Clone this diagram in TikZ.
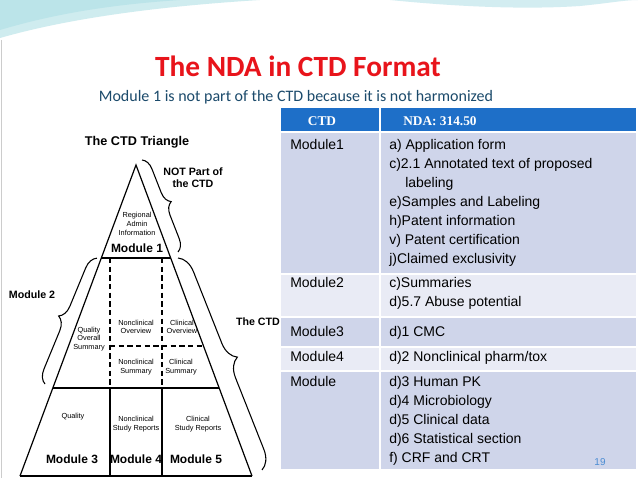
\documentclass[tikz,border=0pt]{standalone}
\usepackage{fontspec}
\setmainfont{Liberation Sans}
\newfontfamily\calib{Carlito}
\newfontfamily\tserif{Liberation Serif}
\usetikzlibrary{decorations.pathreplacing}
\definecolor{hdr}{HTML}{1E6FC8}
\definecolor{rowA}{HTML}{CFD5EA}
\definecolor{rowB}{HTML}{E9EBF5}
\definecolor{ttl}{HTML}{E8141B}
\definecolor{sub}{HTML}{1B4A6B}
\definecolor{wave}{HTML}{9ED8E0}
\tikzset{
  tline/.style={line width=1.4pt},
  thin/.style={line width=0.9pt},
  dline/.style={line width=0.9pt,dashed,dash pattern=on 4pt off 2.5pt},
  small/.style={font=\fontsize{5.5}{6.5}\selectfont,align=center,inner sep=0},
  modl/.style={font=\bfseries\fontsize{9}{10}\selectfont,inner sep=0},
  lab/.style={font=\bfseries\fontsize{8}{9}\selectfont,align=center,inner sep=0},
  cell/.style={font=\fontsize{10.5}{14.2}\selectfont,anchor=north west,align=left,inner sep=0},
  brc/.style={decorate,decoration={brace,amplitude=8pt},line width=0.8pt},
}
\begin{document}
\begin{tikzpicture}[x=0.75pt,y=-0.75pt]
\useasboundingbox (0,0) rectangle (638,478);
\fill[white] (0,0) rectangle (638,478);
% top wave decoration
\fill[wave!50] (0,38) .. controls (80,15) and (180,5) .. (260,0) -- (0,0) -- cycle;
\fill[wave!70] (0,30) .. controls (60,12) and (120,4) .. (180,0) -- (0,0) -- cycle;
\fill[wave!45] (390,0) .. controls (450,6) and (520,10) .. (580,6) .. controls (610,3) and (625,0) .. (638,0) -- cycle;
\draw[gray!40] (1,40) -- (1,478);
% titles
\node[font=\calib\bfseries\fontsize{22}{24}\selectfont,text=ttl] (title) at (298,66) {The NDA in CTD Format};
\node[font=\calib\fontsize{12}{14}\selectfont,text=sub] (subtitle) at (296,97) {Module 1 is not part of the CTD because it is not harmonized};
% table
\fill[hdr] (281,108) rectangle (636,132);
\fill[rowA] (281,132) rectangle (636,274);
\fill[rowB] (281,274) rectangle (636,317);
\fill[rowA] (281,317) rectangle (636,347);
\fill[rowB] (281,347) rectangle (636,371);
\fill[rowA] (281,371) rectangle (636,469);
\draw[white,line width=1pt] (281,132) -- (636,132) (281,274) -- (636,274) (281,317) -- (636,317) (281,347) -- (636,347) (281,371) -- (636,371) (380,108) -- (380,469);
\node[font=\tserif\bfseries\fontsize{10}{11}\selectfont,text=white] (hctd) at (322,121) {CTD};
\node[font=\tserif\bfseries\fontsize{10}{11}\selectfont,text=white] (hnda) at (440,121) {NDA: 314.50};
\node[cell] (m1) at (290,139) {Module1};
\node[cell] (n1) at (389,139) {a) Application form\\c)2.1 Annotated text of proposed\\\hspace*{12pt}labeling\\e)Samples and Labeling\\h)Patent information\\v) Patent certification\\j)Claimed exclusivity};
\node[cell] (m2) at (290,277) {Module2};
\node[cell] (n2) at (389,277) {c)Summaries\\d)5.7 Abuse potential};
\node[cell] (m3) at (290,326) {Module3};
\node[cell] (n3) at (389,326) {d)1 CMC};
\node[cell] (m4) at (290,351) {Module4};
\node[cell] (n4) at (389,351) {d)2 Nonclinical pharm/tox};
\node[cell] (m5) at (290,376) {Module};
\node[cell] (n5) at (389,376) {d)3 Human PK\\d)4 Microbiology\\d)5 Clinical data\\d)6 Statistical section\\f) CRF and CRT};
\node[font=\fontsize{7.5}{8}\selectfont,text=hdr!80] (pg) at (600,462) {19};
% triangle
\coordinate (apex) at (136,165);
\coordinate (bl) at (20,476);
\coordinate (br) at (252,476);
\draw[thin] (bl) -- (apex) -- (br);
\draw[tline] (bl) -- (br);
\draw[tline] (101,258) -- (171,258);
\draw[tline] (53,388) -- (219,388);
\draw[dline] (110,258) -- (110,388);
\draw[dline] (162,258) -- (162,388);
\draw[dline] (110,346) -- (203,346);
\draw[thin] (110,388) -- (110,476);
\draw[thin] (162,388) -- (162,476);
\node[lab,font=\bfseries\fontsize{9.5}{11}\selectfont] (ttri) at (137,142) {The CTD Triangle};
\node[small] (reg) at (137,224) {Regional\\Admin\\Information};
\node[modl] (mod1) at (137,248) {Module 1};
\node[small] (qos) at (89,339) {Quality\\Overall\\Summary};
\node[small] (nco) at (136,327) {Nonclinical\\Overview};
\node[small] (clo) at (182,327) {Clinical\\Overview};
\node[small] (ncs) at (136,367) {Nonclinical\\Summary};
\node[small] (cls) at (181,367) {Clinical\\Summary};
\node[small] (qual) at (73,417) {Quality};
\node[small] (ncsr) at (136,424) {Nonclinical\\Study Reports};
\node[small] (clsr) at (198,424) {Clinical\\Study Reports};
\node[modl] (mod3) at (72,459) {Module 3};
\node[modl] (mod4) at (136,459) {Module 4};
\node[modl] (mod5) at (196,459) {Module 5};
\node[lab] (notp) at (193,178) {NOT Part of\\the CTD};
\node[lab] (lm2) at (32,295) {Module 2};
\node[lab] (lctd) at (258,322) {The CTD};
% braces
\coordinate (b1a) at (142,160);
\coordinate (b1b) at (178,252);
\coordinate (b2a) at (97,258);
\coordinate (b2b) at (45,384);
\coordinate (b3a) at (178,258);
\coordinate (b3b) at (262,470);
\draw[brc,decoration={amplitude=9pt}] (b1a) -- (b1b);
\draw[brc,decoration={amplitude=10pt}] (b2b) -- (b2a);
\draw[brc,decoration={amplitude=14pt}] (b3a) -- (b3b);
\end{tikzpicture}
\end{document}
